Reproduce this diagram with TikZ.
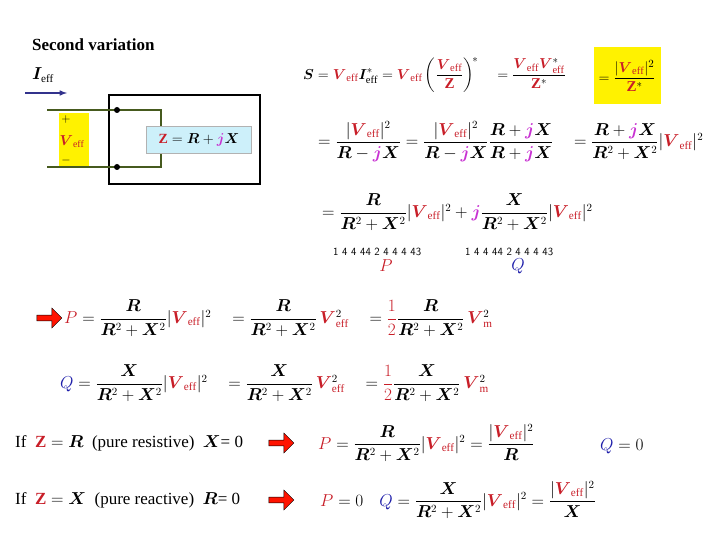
\documentclass[tikz,border=0pt]{standalone}
\usepackage{amsmath}
\usepackage{bm}
\usepackage{fontspec}
\setmainfont{Liberation Serif}
\usetikzlibrary{shapes.arrows,arrows}
\definecolor{vred}{RGB}{200,30,40}
\definecolor{jmag}{RGB}{200,50,210}
\definecolor{qblue}{RGB}{30,30,170}
\definecolor{wiregreen}{RGB}{70,90,30}
\definecolor{zcyan}{RGB}{205,240,250}
\definecolor{navy}{RGB}{50,50,140}
\newcommand{\Veff}{\textcolor{vred}{\bm{V}}_{\textcolor{vred}{\mathrm{eff}}}}
\newcommand{\Vm}{\textcolor{vred}{\bm{V}}_{\textcolor{vred}{\mathrm{m}}}}
\newcommand{\jj}{\textcolor{jmag}{\bm{j}}}
\newcommand{\RR}{\bm{R}}
\newcommand{\XX}{\bm{X}}
\newcommand{\ZZ}{\textcolor{vred}{\mathbf{Z}}}
\newcommand{\PP}{\textcolor{vred}{P}}
\newcommand{\QQ}{\textcolor{qblue}{Q}}
\newcommand{\half}{\textcolor{vred}{\dfrac{1}{2}}}
\newcommand{\den}{\RR^2+\XX^2}
\begin{document}
\begin{tikzpicture}[x=1pt,y=-1pt,
    eq/.style={anchor=west,inner sep=0pt,font=\fontsize{16}{18}\selectfont},
    txt/.style={anchor=west,inner sep=0pt,font=\fontsize{17}{19}\selectfont},
    wire/.style={wiregreen,line width=2pt},
    dot/.style={circle,fill=black,inner sep=0pt,minimum size=6pt},
    bigarrow/.style={single arrow,draw=black,fill=red!85!orange,minimum height=25pt,minimum width=20pt,single arrow head extend=3pt,inner sep=1pt}]
  \useasboundingbox (0,0) rectangle (720,540);
  % title and circuit
  \node[txt,font=\fontsize{17}{19}\selectfont\bfseries] (title) at (32,45) {Second variation};
  \node[eq] (ieff) at (32,75) {$\bm{I}_{\mathrm{eff}}$};
  \coordinate (ia) at (25,93);
  \coordinate (ib) at (67,93);
  \draw[navy,line width=1.5pt,-latex] (ia) -- (ib);
  \draw[line width=1.2pt] (109,95) rectangle (260,184);
  \fill[yellow] (59,113) rectangle (89,167);
  \node[eq,fill=zcyan,draw=gray!60,minimum width=105pt,minimum height=27pt,anchor=center,font=\fontsize{14}{16}\selectfont] (zbox) at (199,140) {$\ZZ=\RR+\jj\XX$};
  \coordinate (t0) at (47,110);
  \coordinate (b0) at (47,167);
  \coordinate (tc) at (161,110);
  \coordinate (bc) at (161,167);
  \draw[wire] (t0) -- (tc) -- (zbox.north -| tc);
  \draw[wire] (b0) -- (bc) -- (zbox.south -| tc);
  \node[dot] (d1) at (117,110) {};
  \node[dot] (d2) at (117,167) {};
  \node[txt,anchor=center,font=\fontsize{13}{15}\selectfont] (plus) at (66,120) {$+$};
  \node[eq,anchor=center,font=\fontsize{14}{16}\selectfont] (vs) at (72,142) {$\Veff$};
  \node[txt,anchor=center,font=\fontsize{13}{15}\selectfont] (minus) at (66,161) {$-$};
  % derivation of S
  \node[eq,font=\fontsize{15}{17}\selectfont] (s1) at (303,75) {$\bm{S}=\Veff\bm{I}^*_{\mathrm{eff}}=\Veff\left(\dfrac{\Veff}{\ZZ}\right)^{\!*}\quad=\dfrac{\Veff\textcolor{vred}{\bm{V}}^*_{\textcolor{vred}{\mathrm{eff}}}}{\ZZ^*}$};
  \node[eq,fill=yellow,minimum width=67pt,minimum height=57pt,anchor=center,font=\fontsize{15}{17}\selectfont] (s2) at (627,76) {$=\dfrac{|\Veff|^2}{\ZZ^*}$};
  \node[eq] (s3) at (318,142) {$=\dfrac{|\Veff|^2}{\RR-\jj\XX}=\dfrac{|\Veff|^2}{\RR-\jj\XX}\dfrac{\RR+\jj\XX}{\RR+\jj\XX}\quad=\dfrac{\RR+\jj\XX}{\den}|\Veff|^2$};
  \node[eq] (s4) at (322,212) {$=\dfrac{\RR}{\den}|\Veff|^2+\jj\dfrac{\XX}{\den}|\Veff|^2$};
  \node[txt,font=\fontsize{11}{13}\selectfont\sffamily] (brp) at (333,252) {1 4 4 44 2 4 4 4 43};
  \node[txt,font=\fontsize{11}{13}\selectfont\sffamily] (brq) at (465,252) {1 4 4 44 2 4 4 4 43};
  \node[eq,anchor=center] (lp) at (386,266) {$\PP$};
  \node[eq,anchor=center] (lq) at (518,266) {$\QQ$};
  % P and Q
  \node[bigarrow] (a1) at (48,318) {};
  \node[eq] (p1) at (64,318) {$\PP=\dfrac{\RR}{\den}|\Veff|^2\quad=\dfrac{\RR}{\den}\,\Veff^2\quad=\half\dfrac{\RR}{\den}\,\Vm^2$};
  \node[eq] (q1) at (60,383) {$\QQ=\dfrac{\XX}{\den}|\Veff|^2\quad=\dfrac{\XX}{\den}\,\Veff^2\quad=\half\dfrac{\XX}{\den}\,\Vm^2$};
  % special cases
  \node[txt] (c1) at (15,443) {If \ $\ZZ=\RR$ \ (pure resistive) \ $\XX$= 0};
  \node[bigarrow] (a2) at (280,443) {};
  \node[eq] (r1) at (318,443) {$\PP=\dfrac{\RR}{\den}|\Veff|^2=\dfrac{|\Veff|^2}{\RR}$};
  \node[eq] (r2) at (600,446) {$\QQ=0$};
  \node[txt] (c2) at (15,500) {If \ $\ZZ=\XX$ \ (pure reactive) \ $\RR$= 0};
  \node[bigarrow] (a3) at (280,500) {};
  \node[eq] (x1) at (320,500) {$\PP=0\quad\QQ=\dfrac{\XX}{\den}|\Veff|^2=\dfrac{|\Veff|^2}{\XX}$};
\end{tikzpicture}
\end{document}
